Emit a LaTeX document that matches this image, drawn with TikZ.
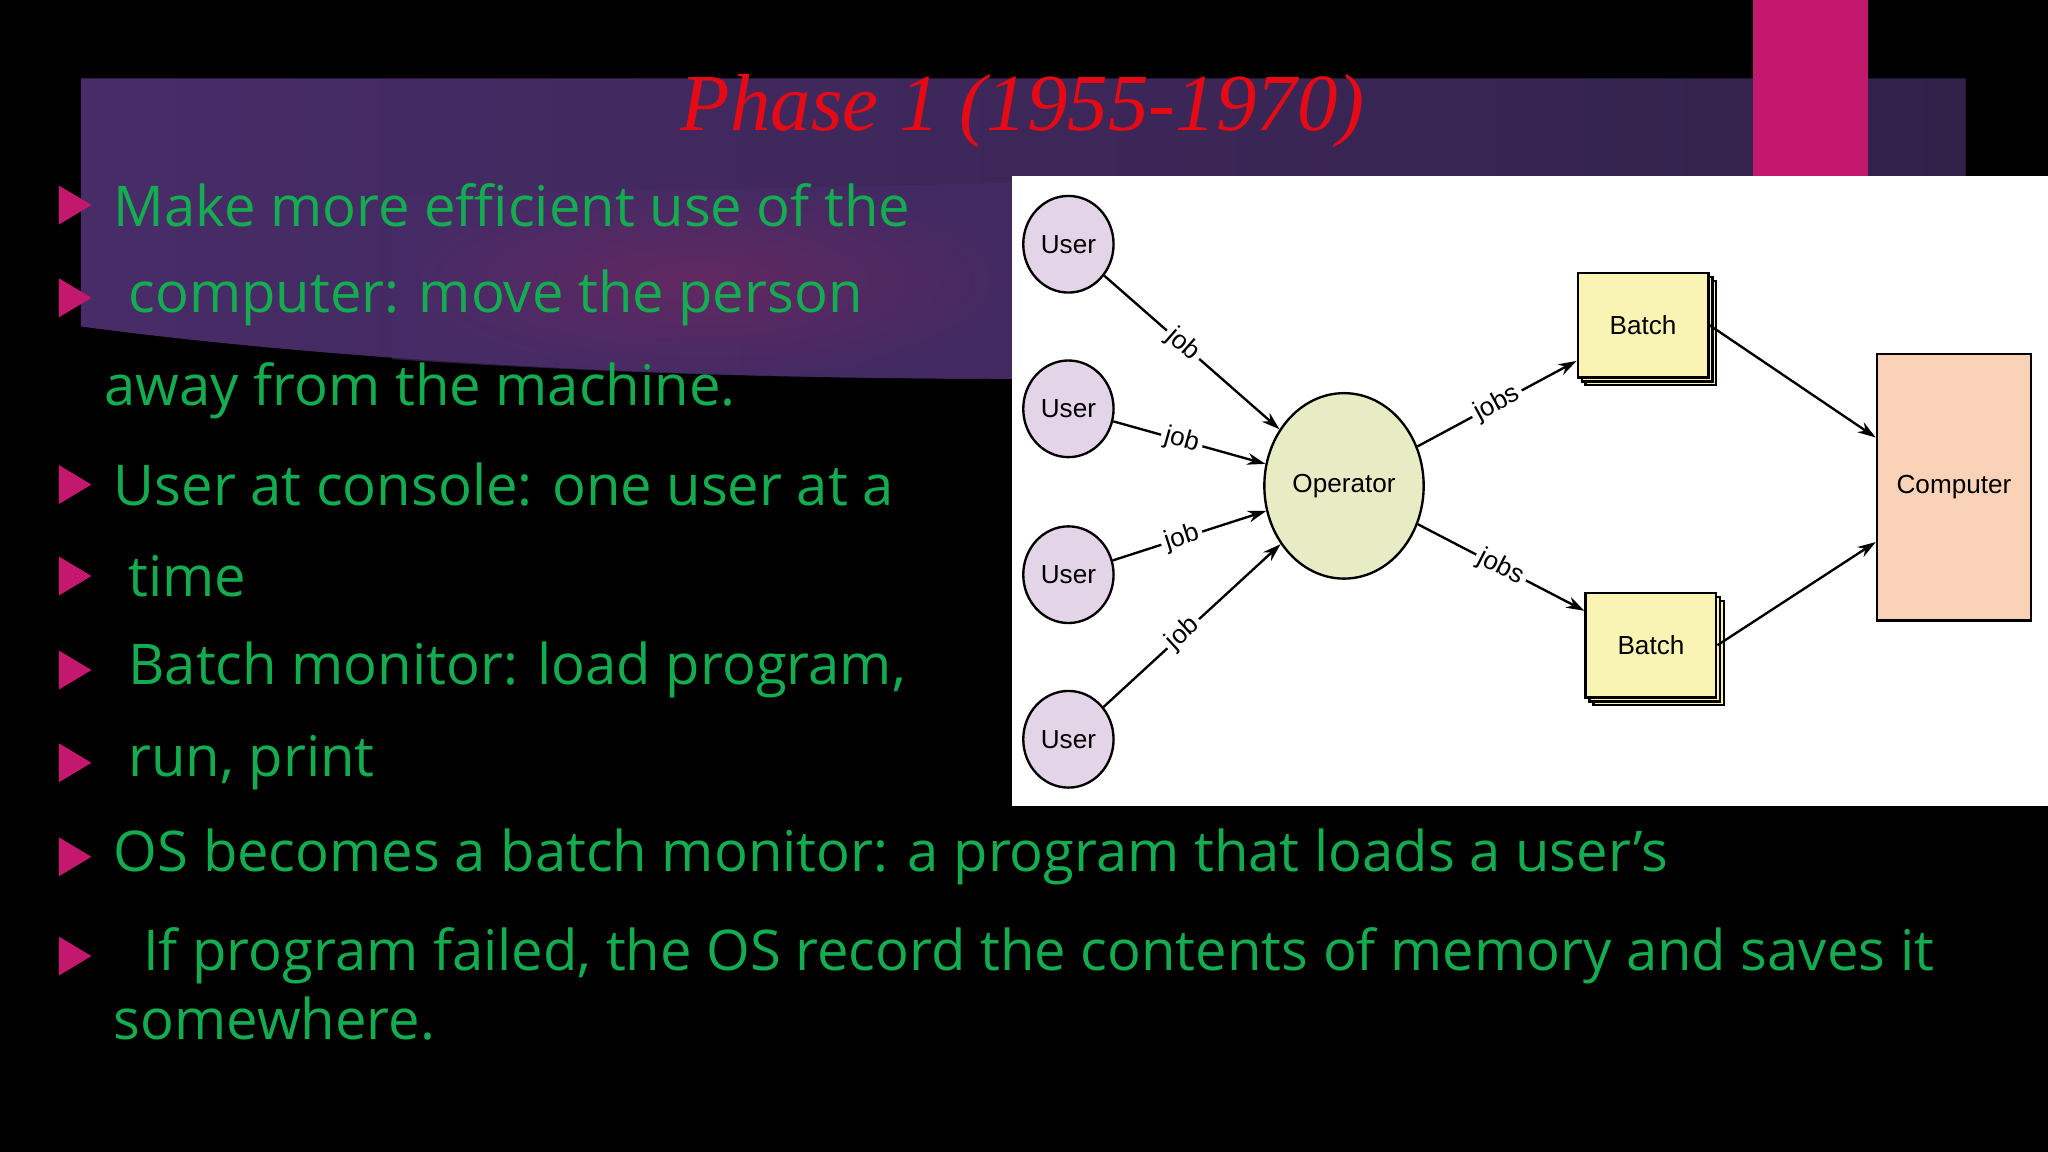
\documentclass[tikz,border=0pt]{standalone}
\usepackage{fontspec}
\setmainfont{Open Sans}
\newfontfamily\diag{Liberation Sans}
\newfontfamily\ttl{Liberation Serif}
\usetikzlibrary{arrows.meta,shapes.geometric,shadows}
\definecolor{grn}{RGB}{20,172,80}
\definecolor{pnk}{RGB}{196,24,110}
\begin{document}
\begin{tikzpicture}[x=1pt,y=-1pt,
 bul/.style={fill=pnk,draw=none},
 txt/.style={anchor=west,text=grn,font=\fontsize{43}{48}\selectfont,inner sep=0},
 user/.style={ellipse,draw=black,line width=1.8pt,fill={rgb,255:red,228;green,212;blue,232},minimum width=64,minimum height=74,font=\diag\fontsize{20}{22}\selectfont},
 batch/.style={draw=black,line width=1.8pt,fill={rgb,255:red,250;green,244;blue,180},minimum width=100,minimum height=80,font=\diag\fontsize{20}{22}\selectfont,double copy shadow={shadow xshift=3pt,shadow yshift=-3pt}},
 arr/.style={-{Stealth[length=14pt,width=9pt]},line width=1.8pt},
 lab/.style={font=\diag\fontsize{20}{22}\selectfont,fill=white,inner sep=3pt,sloped}]
\fill[black] (0,0) rectangle (1568,882);
\useasboundingbox (0,0) rectangle (1568,882);
\shade[left color={rgb,255:red,72;green,44;blue,104},right color={rgb,255:red,50;green,34;blue,74}]
 (62,60) -- (1505,60) -- (1505,135) -- (775,135) -- (775,290) .. controls (500,290) and (250,275) .. (62,250) -- cycle;
\shade[inner color={rgb,255:red,120;green,40;blue,100},outer color={rgb,255:red,72;green,44;blue,104},opacity=0.6]
 (300,150) -- (775,140) -- (775,290) .. controls (600,290) and (450,285) .. (300,275) -- cycle;
\fill[pnk] (1342,0) rectangle (1430,135);
\fill[white] (775,135) rectangle (1568,617);
\node[text={rgb,255:red,230;green,10;blue,20},font=\ttl\itshape\fontsize{62}{70}\selectfont] (title) at (783,85) {Phase 1 (1955-1970)};
\foreach \y in {157,228,371,441,513,584,656,732}{\fill[bul] (45,\y-15) -- (70,\y) -- (45,\y+15) -- cycle;}
\node[txt] (l1) at (87,157) {Make more efficient use of the};
\node[txt] (l2) at (87,228) {\ computer: move the person};
\node[txt] (l3) at (80,299) {away from the machine.};
\node[txt] (l4) at (87,371) {User at console: one user at a};
\node[txt] (l5) at (87,441) {\ time};
\node[txt] (l6) at (87,513) {\ Batch monitor: load program,};
\node[txt] (l7) at (87,584) {\ run, print};
\node[txt] (l8) at (87,656) {OS becomes a batch monitor: a program that loads a user’s};
\node[txt] (l9) at (87,732) {\ \ If program failed, the OS record the contents of memory and saves it};
\node[txt] (l10) at (87,780) {somewhere.};
\node[user] (u1) at (818,187) {User};
\node[user] (u2) at (818,313) {User};
\node[user] (u3) at (818,440) {User};
\node[user] (u4) at (818,566) {User};
\node[ellipse,draw=black,line width=1.8pt,fill={rgb,255:red,232;green,236;blue,196},minimum width=122,minimum height=142,font=\diag\fontsize{20}{22}\selectfont] (op) at (1029,372) {Operator};
\node[batch] (b1) at (1258,249) {Batch};
\node[batch] (b2) at (1264,494) {Batch};
\node[draw=black,line width=1.8pt,fill={rgb,255:red,250;green,210;blue,184},minimum width=118,minimum height=204,font=\diag\fontsize{20}{22}\selectfont] (cp) at (1496,373) {Computer};
\draw[arr] (u1) -- node[lab,pos=0.45]{job} (op);
\draw[arr] (u2) -- node[lab,pos=0.45]{job} (op);
\draw[arr] (u3) -- node[lab,pos=0.45]{job} (op);
\draw[arr] (u4) -- node[lab,pos=0.45]{job} (op);
\draw[arr] (op) -- node[lab]{jobs} (b1);
\draw[arr] (op) -- node[lab]{jobs} (b2);
\draw[arr] (b1.east) -- (cp.west |- 0,335);
\draw[arr] (b2.east) -- (cp.west |- 0,415);
\end{tikzpicture}
\end{document}
